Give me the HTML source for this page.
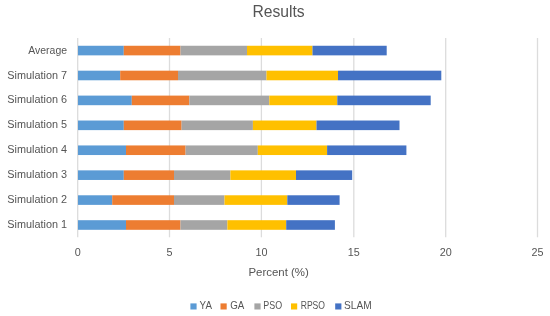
<!DOCTYPE html>
<html lang="en"><head><meta charset="utf-8"><title>Results</title>
<style>
html,body{margin:0;padding:0;background:#fff;}
body{width:550px;height:316px;overflow:hidden;}
svg{display:block;font-family:"Liberation Sans",sans-serif;fill:#555555;}
.g{stroke:#dcdcdc;stroke-width:1.3;}
.t{font-size:16px;}
.y{font-size:10.7px;text-anchor:end;}
.x{font-size:10.8px;text-anchor:middle;}
.a{font-size:11.45px;text-anchor:middle;}
.l{font-size:10.5px;}
</style></head><body>
<svg width="550" height="316" viewBox="0 0 550 316">
<rect x="0" y="0" width="550" height="316" fill="#ffffff"/>
<text class="t" x="252.4" y="16.9" textLength="52.3" lengthAdjust="spacingAndGlyphs">Results</text>
<line class="g" x1="77.7" y1="38" x2="77.7" y2="237.3"/>
<line class="g" x1="169.5" y1="38" x2="169.5" y2="237.3"/>
<line class="g" x1="261.4" y1="38" x2="261.4" y2="237.3"/>
<line class="g" x1="353.8" y1="38" x2="353.8" y2="237.3"/>
<line class="g" x1="445.7" y1="38" x2="445.7" y2="237.3"/>
<line class="g" x1="537.5" y1="38" x2="537.5" y2="237.3"/>
<rect x="78" y="45.76" width="45.8" height="9.6" fill="#5b9bd5"/>
<rect x="123.8" y="45.76" width="56.7" height="9.6" fill="#ed7d31"/>
<rect x="180.5" y="45.76" width="66.5" height="9.6" fill="#a5a5a5"/>
<rect x="247" y="45.76" width="65.5" height="9.6" fill="#ffc000"/>
<rect x="312.5" y="45.76" width="74.2" height="9.6" fill="#4472c4"/>
<text class="y" style="font-size:10.45px" x="67" y="53.6">Average</text>
<rect x="78" y="70.68" width="42.2" height="9.6" fill="#5b9bd5"/>
<rect x="120.2" y="70.68" width="57.8" height="9.6" fill="#ed7d31"/>
<rect x="178" y="70.68" width="88.5" height="9.6" fill="#a5a5a5"/>
<rect x="266.5" y="70.68" width="71.5" height="9.6" fill="#ffc000"/>
<rect x="338" y="70.68" width="103.3" height="9.6" fill="#4472c4"/>
<text class="y" style="font-size:10.85px" x="67" y="78.5">Simulation 7</text>
<rect x="78" y="95.60" width="53.8" height="9.6" fill="#5b9bd5"/>
<rect x="131.8" y="95.60" width="57.5" height="9.6" fill="#ed7d31"/>
<rect x="189.3" y="95.60" width="80.0" height="9.6" fill="#a5a5a5"/>
<rect x="269.3" y="95.60" width="68.0" height="9.6" fill="#ffc000"/>
<rect x="337.3" y="95.60" width="93.4" height="9.6" fill="#4472c4"/>
<text class="y" style="font-size:10.85px" x="67" y="103.4">Simulation 6</text>
<rect x="78" y="120.52" width="45.8" height="9.6" fill="#5b9bd5"/>
<rect x="123.8" y="120.52" width="57.8" height="9.6" fill="#ed7d31"/>
<rect x="181.6" y="120.52" width="71.3" height="9.6" fill="#a5a5a5"/>
<rect x="252.9" y="120.52" width="63.6" height="9.6" fill="#ffc000"/>
<rect x="316.5" y="120.52" width="83.0" height="9.6" fill="#4472c4"/>
<text class="y" style="font-size:10.85px" x="67" y="128.3">Simulation 5</text>
<rect x="78" y="145.44" width="48.0" height="9.6" fill="#5b9bd5"/>
<rect x="126" y="145.44" width="59.6" height="9.6" fill="#ed7d31"/>
<rect x="185.6" y="145.44" width="72.2" height="9.6" fill="#a5a5a5"/>
<rect x="257.8" y="145.44" width="69.3" height="9.6" fill="#ffc000"/>
<rect x="327.1" y="145.44" width="79.3" height="9.6" fill="#4472c4"/>
<text class="y" style="font-size:10.85px" x="67" y="153.2">Simulation 4</text>
<rect x="78" y="170.36" width="45.8" height="9.6" fill="#5b9bd5"/>
<rect x="123.8" y="170.36" width="50.2" height="9.6" fill="#ed7d31"/>
<rect x="174" y="170.36" width="56.4" height="9.6" fill="#a5a5a5"/>
<rect x="230.4" y="170.36" width="65.6" height="9.6" fill="#ffc000"/>
<rect x="296" y="170.36" width="56.2" height="9.6" fill="#4472c4"/>
<text class="y" style="font-size:10.85px" x="67" y="178.2">Simulation 3</text>
<rect x="78" y="195.28" width="34.2" height="9.6" fill="#5b9bd5"/>
<rect x="112.2" y="195.28" width="61.8" height="9.6" fill="#ed7d31"/>
<rect x="174" y="195.28" width="50.5" height="9.6" fill="#a5a5a5"/>
<rect x="224.5" y="195.28" width="62.8" height="9.6" fill="#ffc000"/>
<rect x="287.3" y="195.28" width="52.3" height="9.6" fill="#4472c4"/>
<text class="y" style="font-size:10.85px" x="67" y="203.1">Simulation 2</text>
<rect x="78" y="220.20" width="48.0" height="9.6" fill="#5b9bd5"/>
<rect x="126" y="220.20" width="54.5" height="9.6" fill="#ed7d31"/>
<rect x="180.5" y="220.20" width="46.9" height="9.6" fill="#a5a5a5"/>
<rect x="227.4" y="220.20" width="58.8" height="9.6" fill="#ffc000"/>
<rect x="286.2" y="220.20" width="48.7" height="9.6" fill="#4472c4"/>
<text class="y" style="font-size:10.85px" x="67" y="228.0">Simulation 1</text>
<text class="x" x="77.7" y="256">0</text>
<text class="x" x="169.5" y="256">5</text>
<text class="x" x="261.4" y="256">10</text>
<text class="x" x="353.8" y="256">15</text>
<text class="x" x="445.7" y="256">20</text>
<text class="x" x="537.5" y="256">25</text>
<text class="a" x="278.6" y="276.3">Percent (%)</text>
<rect x="190.4" y="303.4" width="6.2" height="6.1" fill="#5b9bd5"/>
<text class="l" x="199.6" y="309.3" textLength="12.3" lengthAdjust="spacingAndGlyphs">YA</text>
<rect x="220.5" y="303.4" width="6.2" height="6.1" fill="#ed7d31"/>
<text class="l" x="230.2" y="309.3" textLength="14.1" lengthAdjust="spacingAndGlyphs">GA</text>
<rect x="254.4" y="303.4" width="6.2" height="6.1" fill="#a5a5a5"/>
<text class="l" x="263.3" y="309.3" textLength="18.8" lengthAdjust="spacingAndGlyphs">PSO</text>
<rect x="291" y="303.4" width="6.2" height="6.1" fill="#ffc000"/>
<text class="l" x="300.7" y="309.3" textLength="24.3" lengthAdjust="spacingAndGlyphs">RPSO</text>
<rect x="335.2" y="303.4" width="6.2" height="6.1" fill="#4472c4"/>
<text class="l" x="344.0" y="309.3" textLength="27.6" lengthAdjust="spacingAndGlyphs">SLAM</text>
</svg></body></html>
